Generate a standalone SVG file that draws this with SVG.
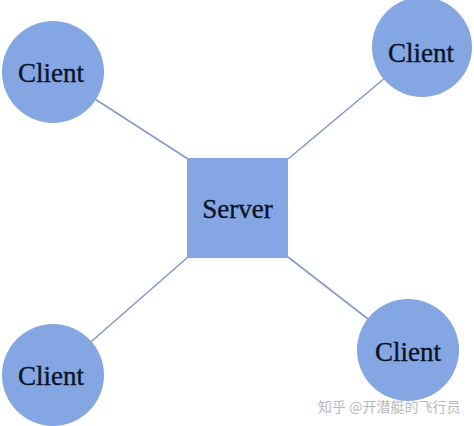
<svg xmlns="http://www.w3.org/2000/svg" width="474" height="426" viewBox="0 0 474 426">
<style>
.node{fill:#84a6e2;}
.lbl{font-family:"Liberation Serif","Times New Roman",serif;font-size:27px;fill:#0b1228;stroke:#0b1228;stroke-width:0.35;text-anchor:middle;}
.conn line{stroke:#8399c6;stroke-width:1.6;}
.wm{font-family:"Noto Sans CJK SC","Noto Sans",sans-serif;font-size:14px;fill:#b9b9b9;}
</style>
<rect width="474" height="426" fill="#ffffff"/>
<g id="connectors" class="conn">
<line x1="53" y1="72" x2="188" y2="159"/>
<line x1="422" y1="47" x2="288" y2="159"/>
<line x1="53" y1="375" x2="188" y2="257"/>
<line x1="408" y1="350" x2="288" y2="257"/>
</g>
<g id="server">
<rect class="node" x="187" y="158" width="101" height="100"/>
<text class="lbl" x="237.5" y="218">Server</text>
</g>
<g id="client-tl">
<circle class="node" cx="53" cy="72" r="51"/>
<text class="lbl" x="51" y="82">Client</text>
</g>
<g id="client-tr">
<circle class="node" cx="422" cy="47" r="50"/>
<text class="lbl" x="421" y="62">Client</text>
</g>
<g id="client-bl">
<circle class="node" cx="53" cy="375" r="51"/>
<text class="lbl" x="51" y="385">Client</text>
</g>
<g id="client-br">
<circle class="node" cx="408" cy="350" r="51"/>
<text class="lbl" x="408" y="361">Client</text>
</g>
<text class="wm" x="318" y="412">知乎 @开潜艇的飞行员</text>
</svg>
